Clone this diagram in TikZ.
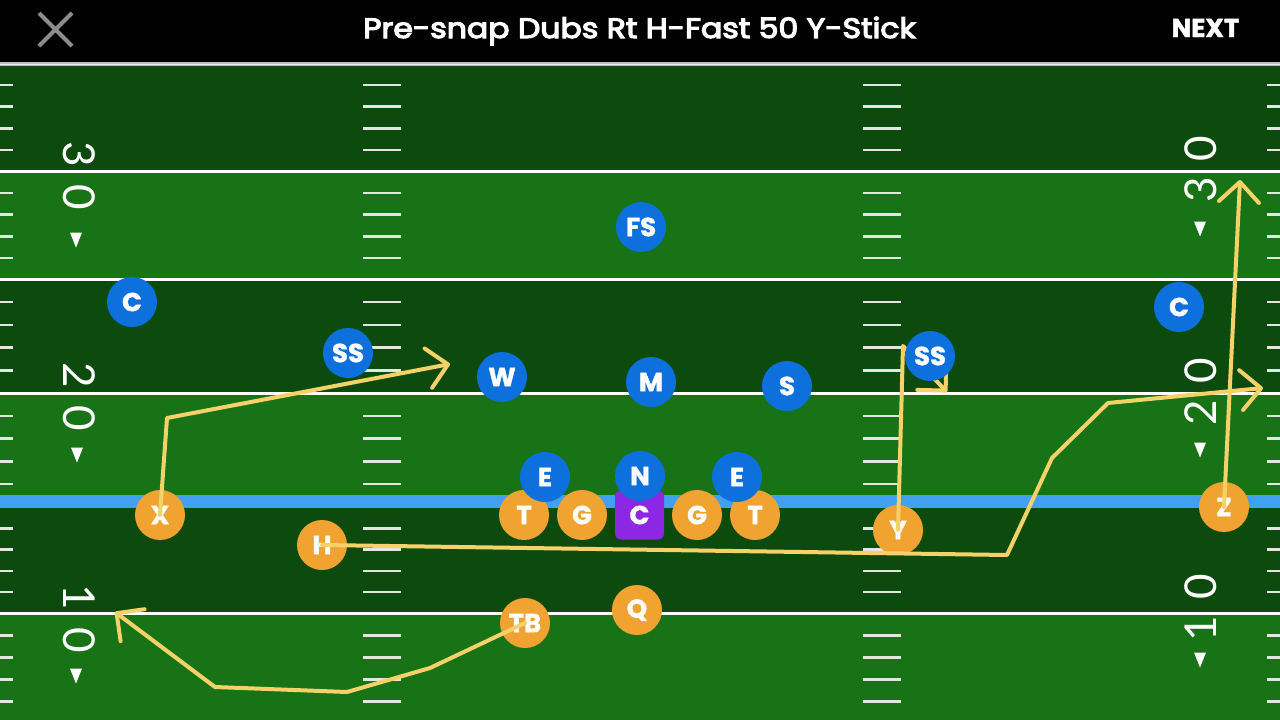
\documentclass[tikz,border=0pt]{standalone}
\usepackage{fontspec}
\setmainfont{Lato}
\newfontfamily\titlefont[FakeBold=4]{Poppins}
\newfontfamily\lblfont[FakeBold=1.5]{Poppins}
\usetikzlibrary{arrows.meta}
\definecolor{fdark}{RGB}{13,74,13}
\definecolor{flight}{RGB}{24,114,22}
\definecolor{losblue}{RGB}{66,160,240}
\definecolor{defblue}{RGB}{14,112,220}
\definecolor{offorange}{RGB}{240,163,48}
\definecolor{cpurple}{RGB}{140,40,228}
\definecolor{routeyel}{RGB}{245,210,105}
\definecolor{closegrey}{RGB}{140,140,140}
\definecolor{sepgrey}{RGB}{190,190,190}
\definecolor{hashwhite}{RGB}{225,232,225}
\begin{document}
\begin{tikzpicture}[x=1pt,y=-1pt,
  playerlbl/.style={text=white,font=\lblfont\fontsize{26}{26}\selectfont\bfseries,inner sep=0pt},
  defp/.style={circle,fill=defblue,minimum size=50pt,playerlbl},
  offp/.style={circle,fill=offorange,minimum size=50pt,playerlbl},
  ctrp/.style={rectangle,rounded corners=6pt,fill=cpurple,minimum size=49pt,playerlbl},
  rt/.style={draw=routeyel,line width=4pt,line join=round,line cap=round},
  rtarrow/.style={rt,-{Straight Barb[length=20pt,width=40pt,round]}},
  digitl/.style={text=white,font=\fontsize{44}{44}\selectfont,inner sep=0pt,rotate=-90},
  digitr/.style={text=white,font=\fontsize{44}{44}\selectfont,inner sep=0pt,rotate=90},
  hashmk/.style={draw=hashwhite,line width=2.5pt},
  yardln/.style={draw=white,line width=3pt}]
\useasboundingbox (0,0) rectangle (1280,720);
% field stripes
\fill[fdark] (0,66) rectangle (1280,171.5);
\fill[flight] (0,171.5) rectangle (1280,279.5);
\fill[fdark] (0,279.5) rectangle (1280,393);
\fill[flight] (0,393) rectangle (1280,507);
\fill[fdark] (0,507) rectangle (1280,613.5);
\fill[flight] (0,613.5) rectangle (1280,720);
% yard lines
\foreach \yy in {171.5,279.5,393,613.5} \draw[yardln] (0,\yy) -- (1280,\yy);
% hash marks
\foreach \ya/\yb in {63.5/171.5,171.5/279.5,279.5/393,393/507,507/613.5,613.5/723.5}{
  \foreach \k in {1,2,3,4}{
    \pgfmathsetmacro\yh{\ya+\k*(\yb-\ya)/5}
    \draw[hashmk] (0,\yh) -- (13,\yh) (363,\yh) -- (401,\yh) (863,\yh) -- (901,\yh) (1267,\yh) -- (1280,\yh);
  }
}
% yard numbers, left
\node[digitl] (l3) at (79,154) {3};
\node[digitl] (l30) at (79,197) {0};
\node[digitl] (l2) at (79,375) {2};
\node[digitl] (l20) at (79,418) {0};
\node[digitl] (l1) at (79,597) {1};
\node[digitl] (l10) at (79,640) {0};
% yard numbers, right
\node[digitr] (r30) at (1201,149) {0};
\node[digitr] (r3) at (1201,190) {3};
\node[digitr] (r20) at (1201,371) {0};
\node[digitr] (r2) at (1201,413) {2};
\node[digitr] (r10) at (1201,587) {0};
\node[digitr] (r1) at (1201,629) {1};
% direction triangles
\foreach \tx/\ty in {76/240,77/455,76/676,1200/229,1200/450,1200/660}
  \fill[white] (\tx-6,\ty-7.5) -- (\tx+6,\ty-7.5) -- (\tx,\ty+7.5) -- cycle;
% line of scrimmage
\fill[losblue] (0,495) rectangle (1280,508);
% offense
\node[offp] (X) at (160,515) {X};
\node[offp] (H) at (322,545) {H};
\node[offp] (TB) at (525,623) {TB};
\node[offp] (LT) at (524,515) {T};
\node[offp] (LG) at (582,515) {G};
\node[ctrp] (OC) at (639.5,515) {C};
\node[offp] (RG) at (697,515) {G};
\node[offp] (RT) at (755,515) {T};
\node[offp] (Q) at (637,610) {Q};
\node[offp] (Y) at (898,530) {Y};
\node[offp] (Z) at (1224,507) {Z};
% route points
\coordinate (x1) at (167,418);
\coordinate (xend) at (450,364);
\coordinate (h1) at (1007,555);
\coordinate (h2) at (1052,458);
\coordinate (h3) at (1108,403);
\coordinate (hend) at (1263,388);
\coordinate (y1) at (903,346);
\coordinate (yend) at (947,392);
\coordinate (zend) at (1240,180);
\coordinate (t1) at (430,668);
\coordinate (t2) at (347,692);
\coordinate (t3) at (215,687);
\coordinate (tend) at (115,612);
% routes
\draw[rtarrow] (X.center) -- (x1) -- (xend);
\draw[rtarrow] (H.center) -- (h1) -- (h2) -- (h3) -- (hend);
\draw[rtarrow] (Y.center) -- (y1) -- (yend);
\draw[rtarrow] (Z.center) -- (zend);
\draw[rtarrow] (TB.center) -- (t1) -- (t2) -- (t3) -- (tend);
% defense
\node[defp] (FS) at (641,227) {FS};
\node[defp] (LC) at (132,302) {C};
\node[defp] (LSS) at (348,353) {SS};
\node[defp] (W) at (502,377) {W};
\node[defp] (M) at (651,382) {M};
\node[defp] (S) at (787,386) {S};
\node[defp] (RSS) at (930,356) {SS};
\node[defp] (RC) at (1179,307) {C};
\node[defp] (LE) at (545,477) {E};
\node[defp] (N) at (640,476) {N};
\node[defp] (RE) at (737,477) {E};
% header
\fill[black] (0,0) rectangle (1280,62);
\fill[sepgrey] (0,62) rectangle (1280,66);
\draw[white!85!gray,line width=1pt] (0,64) -- (1280,64);
\draw[closegrey,line width=4pt] (39,13) -- (72,46) (39,46) -- (72,13);
\node[anchor=base,text=white,inner sep=0pt,font=\titlefont\fontsize{28}{30}\selectfont] (title) at (639.5,38) {\scalebox{1.127}[1]{Pre-snap Dubs Rt H-Fast 50 Y-Stick}};
\node[anchor=base,text=white,inner sep=0pt,font=\lblfont\fontsize{26}{26}\selectfont\bfseries] (next) at (1205.5,37) {NEXT};
\end{tikzpicture}
\end{document}
